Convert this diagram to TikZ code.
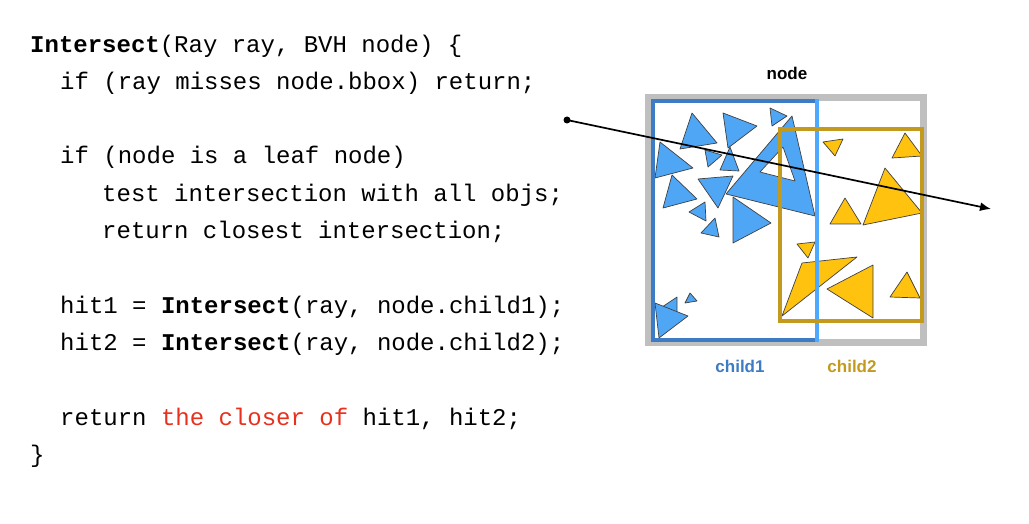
\documentclass[tikz,border=0pt]{standalone}
\usepackage{fontspec}
\setmainfont{Liberation Sans}
\setmonofont{Liberation Mono}
\usetikzlibrary{arrows.meta}
\definecolor{boxgray}{HTML}{BFBFBF}
\definecolor{cblue}{HTML}{3D7CC4}
\definecolor{clight}{HTML}{4DA8FF}
\definecolor{tblue}{HTML}{4FA6F5}
\definecolor{cgold}{HTML}{C39A1E}
\definecolor{tgold}{HTML}{FFC20E}
\definecolor{cred}{HTML}{E8301C}
\tikzset{
	code/.style = {anchor=base west, inner sep=0pt, font=\ttfamily\fontsize{24}{24}\selectfont},
	lbl/.style = {inner sep=0pt, font=\bfseries\fontsize{17}{17}\selectfont},
	tri/.style = {draw=black!75, line width=0.7pt, line join=round},
}
\begin{document}
\begin{tikzpicture}[x={(1pt,0)}, y={(0,-1pt)}]
	\useasboundingbox (0,0) rectangle (1029,524);
	% code
	\node[code] (l1) at (30,53) {\textbf{Intersect}(Ray ray, BVH node) \{};
	\node[code] (l2) at (60,90) {if (ray misses node.bbox) return;};
	\node[code] (l3) at (60,164) {if (node is a leaf node)};
	\node[code] (l4) at (102,201) {test intersection with all objs;};
	\node[code] (l5) at (102,238) {return closest intersection;};
	\node[code] (l6) at (60,313) {hit1 = \textbf{Intersect}(ray, node.child1);};
	\node[code] (l7) at (60,350) {hit2 = \textbf{Intersect}(ray, node.child2);};
	\node[code] (l8) at (60,425) {return \textcolor{cred}{the closer of} hit1, hit2;};
	\node[code] (l9) at (30,462) {\}};
	% boxes
	\draw[boxgray, line width=7pt] (648,98) rectangle (923,342);
	\foreach \p in {{(692,113)--(680,149)--(717,143)}, {(723,113)--(728,148)--(757,126)},
		{(770,108)--(772,126)--(787,116)}, {(792,116)--(726,194)--(815,216)},
		{(660,142)--(655,178)--(693,168)}, {(705,150)--(708,167)--(722,155)},
		{(730,147)--(720,170)--(739,171)}, {(698,179)--(718,208)--(733,176)},
		{(672,175)--(663,208)--(697,199)}, {(705,202)--(689,212)--(706,221)},
		{(715,218)--(701,233)--(719,237)}, {(733,197)--(733,243)--(771,223)},
		{(677,297)--(662,307)--(677,314)}, {(690,293)--(685,303)--(697,301)},
		{(655,303)--(659,338)--(688,316)}}
		\filldraw[tri, fill=tblue] \p -- cycle;
	\filldraw[tri, fill=white] (783,147) -- (760,172) -- (795,181) -- cycle;
	\foreach \p in {{(823,142)--(835,156)--(843,139)}, {(905,133)--(892,158)--(922,156)},
		{(885,168)--(863,225)--(922,213)}, {(845,198)--(830,224)--(861,224)},
		{(797,244)--(808,258)--(815,242)}, {(802,263)--(782,316)--(857,257)},
		{(873,265)--(827,289)--(873,318)}, {(907,272)--(890,297)--(920,298)}}
		\filldraw[tri, fill=tgold] \p -- cycle;
	\draw[cblue, line width=4pt] (817,101) -- (653,101) -- (653,340) -- (817,340);
	\draw[clight, line width=4pt] (817,99) -- (817,342);
	\draw[cgold, line width=3.5pt] (780,129) rectangle (922,321);
	% labels
	\node[lbl] (node) at (787,73) {node};
	\node[lbl, text=cblue] (child1) at (740,366) {child1};
	\node[lbl, text=cgold] (child2) at (852,366) {child2};
	% ray
	\coordinate (origin) at (567,120);
	\coordinate (far) at (991,209);
	\fill (origin) circle (3.5);
	\draw[line width=1.7pt, -{Latex[length=11pt, width=9pt]}] (origin) -- (far);
\end{tikzpicture}
\end{document}
